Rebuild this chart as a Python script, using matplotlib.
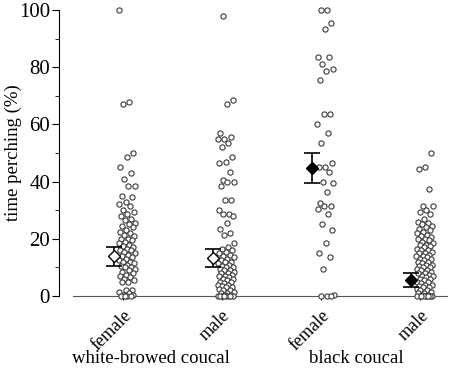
import numpy as np
import matplotlib
matplotlib.use('Agg')
import matplotlib.pyplot as plt
from matplotlib.ticker import MultipleLocator

plt.rcParams['font.family'] = ['Liberation Serif', 'DejaVu Serif']

# values (time perching, %)
wb_female = [100, 68, 67, 50, 48.5, 45, 43, 41, 38.5, 38.5, 35, 34.5, 33, 32, 31.5, 30, 29.5,
             28.5, 28, 27, 26.5, 25.5, 25, 24.5, 24, 23, 22.5, 22, 21.5, 21, 20, 20, 19.5, 19,
             18.5, 18, 17.5, 17, 16.5, 16, 16, 15.5, 15, 14.5, 14, 13.5, 13, 12.5, 12, 12, 11.5,
             11, 10.5, 10, 10, 9.5, 9, 8.5, 8, 7.5, 7, 6.5, 6, 5.5, 5, 5, 2, 2, 1.5, 1, 0.5, 0.5,
             0, 0, 0, 0]
wb_male = [98, 68.5, 67, 57, 55.5, 55, 55, 53.5, 52, 48.5, 47, 46.5, 43.5, 40.5, 40, 40, 38.5,
           33.5, 33.5, 30, 28.5, 28.5, 28, 25.5, 23.5, 22, 21.5, 18.5, 17, 16.5, 16, 15.5, 15,
           14.5, 14, 13.5, 13, 12.5, 12, 12, 11.5, 11, 10.5, 10, 10, 9.5, 9, 9, 8.5, 8, 8, 7.5,
           7, 7, 6.5, 6, 6, 5.5, 5, 5, 4.5, 4, 4, 3.5, 3, 3, 2.5, 2, 2, 1.5, 1, 1, 0.5, 0.5,
           0, 0, 0, 0, 0, 0, 0, 0]
bc_female = [100, 100, 95.5, 93.5, 83.5, 83.5, 81, 79.5, 78.5, 75.5, 63.5, 63.5, 60, 57, 53.5,
             46.5, 45, 45, 43.5, 40, 39.5, 36.5, 32.5, 31.5, 31.5, 30.5, 28.5, 25, 23, 18.5, 15,
             13.5, 9.5, 0.5, 0, 0, 0]
bc_male = [50, 45, 44.5, 37.5, 31.5, 31.5, 30, 29.5, 28.5, 27, 26, 25.5, 25, 24.5, 24, 23.5, 23,
           22.5, 22, 21.5, 21, 20.5, 20, 20, 19.5, 19, 18.5, 18, 18, 17.5, 17, 16.5, 16, 16,
           15.5, 15, 15, 14.5, 14, 14, 13.5, 13, 13, 12.5, 12, 12, 11.5, 11, 11, 10.5, 10, 10,
           9.5, 9, 9, 8.5, 8, 8, 7.5, 7, 7, 6.5, 6, 6, 5.5, 5, 5, 4.5, 4, 4, 3.5, 3, 3, 2.5, 2,
           2, 1.5, 1, 1, 0.5, 0.5, 0, 0, 0, 0, 0, 0, 0, 0]

means = [14, 13.2, 44.6, 5.6]
upper = [17.2, 16.3, 49.9, 7.9]
lower = [10.6, 10.0, 39.4, 3.0]
filled = [False, False, True, True]
tick_labels = ['female', 'male', 'female', 'male']
species = ['white-browed coucal', 'black coucal']

groups = [wb_female, wb_male, bc_female, bc_male]

fig = plt.figure(figsize=(4.74, 3.70), dpi=100)
ax = fig.add_axes([0.154, 0.2, 0.789, 0.773])

for i, vals in enumerate(groups):
    vals = np.array(vals)
    n = len(vals)
    # deterministic jitter (golden ratio sequence)
    jit = -0.04 + 0.17 * ((np.arange(n) * 0.618034 + 0.3 * i) % 1.0)
    ax.scatter(i + 1 + jit, vals, s=14, facecolor='white', edgecolor='#3a3a3a',
               linewidth=0.8, clip_on=False, zorder=3)

    m = means[i]
    ax.errorbar(i + 1 - 0.09, m, yerr=[[m - lower[i]], [upper[i] - m]], fmt='none',
                ecolor='black', elinewidth=1.2, capsize=6, capthick=1.2, zorder=4)
    ax.plot(i + 1 - 0.09, m, marker='D', ms=6.5, mec='black', mew=1.0,
            mfc='black' if filled[i] else 'white', zorder=5, linestyle='none')

ax.set_xlim(0.5, 4.27)
ax.set_ylim(0, 100)
ax.spines['top'].set_visible(False)
ax.spines['right'].set_visible(False)
ax.spines['left'].set_position(('outward', 10))
ax.spines['bottom'].set_color('#555555')

ax.yaxis.set_major_locator(MultipleLocator(20))
ax.yaxis.set_minor_locator(MultipleLocator(10))
ax.tick_params(axis='y', which='major', length=5, labelsize=15, pad=1.5)
ax.tick_params(axis='y', which='minor', length=3)
ax.set_xticks([1, 2, 3, 4])
ax.set_xticklabels(tick_labels, rotation=45, ha='right', rotation_mode='anchor', fontsize=13)
ax.tick_params(axis='x', length=3, pad=5)

ax.set_ylabel('time perching (%)', fontsize=13.5)
ax.yaxis.set_label_coords(-0.137, 0.5)

ax.text(1.29, -0.22, species[0], transform=ax.get_xaxis_transform(), ha='center',
        va='center', fontsize=13.5)
ax.text(3.36, -0.22, species[1], transform=ax.get_xaxis_transform(), ha='center',
        va='center', fontsize=13.5)

fig.savefig('out.png', dpi=100)
